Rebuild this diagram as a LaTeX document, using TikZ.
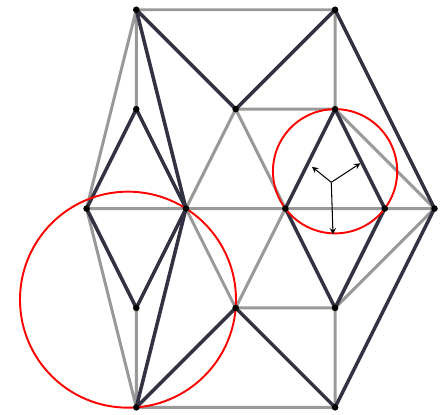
\documentclass[tikz,border=0pt]{standalone}
\definecolor{edgegray}{RGB}{153,153,153}
\definecolor{edgedark}{RGB}{50,50,66}
\tikzset{
  grayedge/.style={line width=1.7pt,edgegray,line cap=round},
  darkedge/.style={line width=2pt,edgedark,line cap=round,line join=round},
  ring/.style={red,line width=1.1pt},
  force/.style={->,line width=0.6pt}
}
\begin{document}
\begin{tikzpicture}[>=stealth,scale=2]
            \useasboundingbox(-1.371,-0.067)rectangle(3.116,4.098);
            % vertices
            \coordinate(A)at(0,4);\coordinate(B)at(2,4);
            \coordinate(C)at(1,3);\coordinate(D)at(0,3);\coordinate(E)at(2,3);
            \coordinate(F)at(-0.5,2);\coordinate(G)at(0.5,2);\coordinate(H)at(1.5,2);
            \coordinate(I)at(2.5,2);\coordinate(J)at(3,2);
            \coordinate(K)at(0,1);\coordinate(L)at(1,1);\coordinate(M)at(2,1);
            \coordinate(N)at(0,0);\coordinate(O)at(2,0);
            \draw[grayedge](A)--(B)(A)--(D)(A)--(F)--(N)(K)--(N)--(O)(B)--(E)(M)--(O)
                (C)--(E)--(J)--(M)--(L)(F)--(J)(C)--(G)--(L)--(H)--cycle;
            \draw[darkedge](A)--(C)--(B)--(J)--(O)--(L)--(N)--(G)--cycle;
            \draw[darkedge](D)--(F)--(K)--(G)--cycle(E)--(H)--(M)--(I)--cycle;
            % circumcircles
            \coordinate(P)at(-1/12,13/12);\coordinate(Q)at(2,2.375);
            \draw[ring](P)circle({sqrt(170)/12});
            \draw[ring](Q)circle(0.625);
            \coordinate(S)at(1.962,2.264);
            \coordinate(T1)at(1.768,2.42);\coordinate(T2)at(2.254,2.455);\coordinate(T3)at(1.979,1.741);
            \draw[force](S)--(T1);\draw[force](S)--(T2);\draw[force](S)--(T3);
            \foreach \p in {A,B,C,D,E,F,G,H,I,J,K,L,M,N,O}\fill(\p)circle(0.033);
        \end{tikzpicture}
\end{document}
